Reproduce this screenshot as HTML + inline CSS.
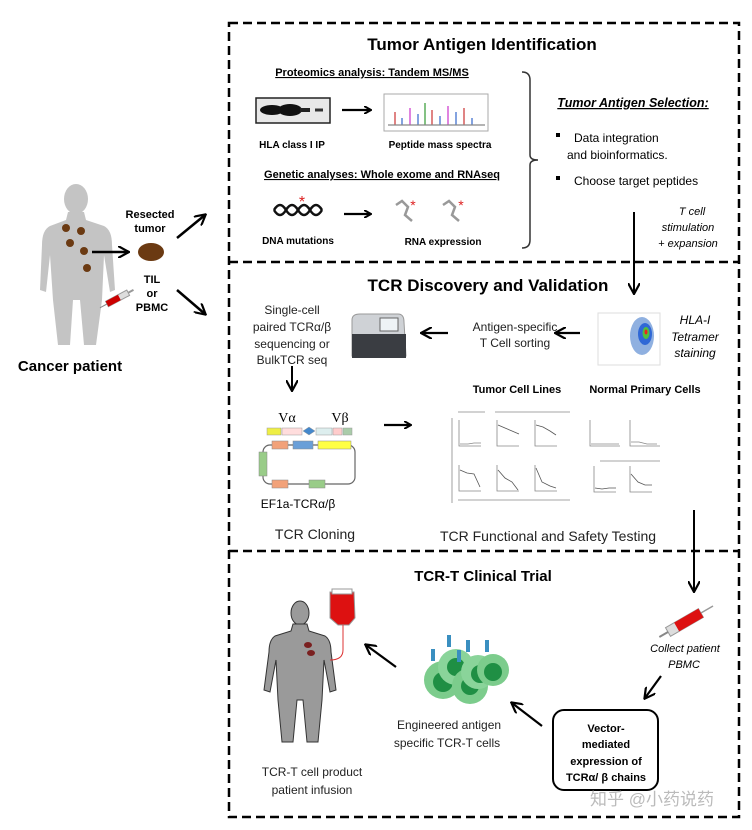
<!DOCTYPE html>
<html><head><meta charset="utf-8"><style>
html,body{margin:0;padding:0;background:#fff;}
svg{display:block;font-family:"Liberation Sans","Noto Sans CJK SC",sans-serif;}
</style></head><body>
<svg width="752" height="830" viewBox="0 0 752 830" xmlns="http://www.w3.org/2000/svg">
<defs>
<marker id="ah" markerWidth="8" markerHeight="8" refX="6" refY="4" orient="auto" markerUnits="userSpaceOnUse"><path d="M0,0 L7,4 L0,8" fill="none" stroke="#000" stroke-width="2"/></marker>
<marker id="ah2" markerWidth="12" markerHeight="12" refX="10" refY="6" orient="auto" markerUnits="userSpaceOnUse"><path d="M0,0 L11,6 L0,12" fill="none" stroke="#000" stroke-width="2.2"/></marker>
</defs>
<!-- dashed boxes -->
<g fill="none" stroke="#000" stroke-width="2.5" stroke-dasharray="9,5">
<rect x="229" y="23" width="510" height="794"/>
<line x1="229" y1="262" x2="739" y2="262"/>
<line x1="229" y1="551" x2="739" y2="551"/>
</g>

<!-- Left patient -->
<g fill="#c4c4c4">
<ellipse cx="76" cy="199" rx="12" ry="15"/>
<path d="M68,212 L84,212 L86,220 L104,226 Q112,230 112,245 L115,290 L110,292 L104,255 L102,300 L96,345 L84,345 L80,300 L73,300 L70,345 L58,345 L53,300 L50,255 L46,292 L40,290 L42,245 Q42,230 50,226 L66,220 Z"/>
</g>
<g fill="#6b3a12">
<circle cx="66" cy="228" r="4"/><circle cx="81" cy="231" r="4"/><circle cx="70" cy="243" r="4"/><circle cx="84" cy="251" r="4"/><circle cx="87" cy="268" r="4"/>
</g>
<line x1="92" y1="252" x2="128" y2="252" stroke="#000" stroke-width="2.5" marker-end="url(#ah2)"/>
<ellipse cx="151" cy="252" rx="13" ry="9" fill="#6b3a12"/>
<g font-weight="bold" font-size="11" text-anchor="middle">
<text x="150" y="218">Resected</text><text x="150" y="232">tumor</text>
<text x="152" y="283">TIL</text><text x="152" y="297">or</text><text x="152" y="311">PBMC</text>
</g>
<line x1="177" y1="238" x2="205" y2="215" stroke="#000" stroke-width="2.5" marker-end="url(#ah2)"/>
<line x1="177" y1="290" x2="205" y2="314" stroke="#000" stroke-width="2.5" marker-end="url(#ah2)"/>
<!-- syringe left -->
<g transform="translate(107,304) rotate(-28)">
<rect x="0" y="-3" width="24" height="6" fill="#ddd" stroke="#999"/>
<rect x="0" y="-3" width="14" height="6" fill="#c00"/>
<line x1="-8" y1="0" x2="0" y2="0" stroke="#888" stroke-width="1"/>
<line x1="24" y1="0" x2="30" y2="0" stroke="#999" stroke-width="2"/>
</g>
<text x="70" y="371" font-size="15" font-weight="bold" text-anchor="middle">Cancer patient</text>

<!-- Section 1 -->
<text x="482" y="50" font-size="17" font-weight="bold" text-anchor="middle">Tumor Antigen Identification</text>
<text x="372" y="76" font-size="11" font-weight="bold" text-anchor="middle" text-decoration="underline">Proteomics analysis: Tandem MS/MS</text>
<rect x="256" y="98" width="74" height="25" fill="#e8e8e8" stroke="#222" stroke-width="1.5"/>
<ellipse cx="272" cy="110" rx="12" ry="5" fill="#111"/><ellipse cx="290" cy="110" rx="12" ry="6" fill="#111"/><rect x="300" y="108" width="10" height="4" fill="#222"/><rect x="315" y="108.5" width="8" height="3" fill="#333"/>
<line x1="342" y1="110" x2="370" y2="110" stroke="#000" stroke-width="2.2" marker-end="url(#ah)"/>
<rect x="384" y="94" width="104" height="37" fill="#fff" stroke="#aaa"/>
<g stroke-width="1.2">
<line x1="395" y1="125" x2="395" y2="112" stroke="#c33"/><line x1="402" y1="125" x2="402" y2="118" stroke="#36c"/><line x1="410" y1="125" x2="410" y2="108" stroke="#c3c"/><line x1="418" y1="125" x2="418" y2="114" stroke="#36c"/><line x1="425" y1="125" x2="425" y2="103" stroke="#393"/><line x1="432" y1="125" x2="432" y2="110" stroke="#c33"/><line x1="440" y1="125" x2="440" y2="116" stroke="#36c"/><line x1="448" y1="125" x2="448" y2="106" stroke="#c3c"/><line x1="456" y1="125" x2="456" y2="112" stroke="#36c"/><line x1="464" y1="125" x2="464" y2="108" stroke="#c33"/><line x1="472" y1="125" x2="472" y2="118" stroke="#36c"/>
<line x1="388" y1="125" x2="485" y2="125" stroke="#888"/>
</g>
<text x="292" y="148" font-size="10" font-weight="bold" text-anchor="middle">HLA class I IP</text>
<text x="440" y="148" font-size="10" font-weight="bold" text-anchor="middle">Peptide  mass spectra</text>
<text x="382" y="178" font-size="11" font-weight="bold" text-anchor="middle" text-decoration="underline">Genetic analyses: Whole exome and RNAseq</text>
<path d="M274,210 Q280,200 286,210 T298,210 T310,210 T322,210" fill="none" stroke="#111" stroke-width="2.5"/>
<path d="M274,210 Q280,220 286,210 T298,210 T310,210 T322,210" fill="none" stroke="#111" stroke-width="2.5"/>
<text x="302" y="207" fill="#d22" font-size="16" text-anchor="middle">*</text>
<line x1="344" y1="214" x2="370" y2="214" stroke="#000" stroke-width="2.2" marker-end="url(#ah)"/>
<path d="M396,205 l6,-4 l6,6 l-3,8 l7,6" fill="none" stroke="#999" stroke-width="2.5"/>
<path d="M443,205 l6,-4 l6,6 l-3,8 l7,6" fill="none" stroke="#999" stroke-width="2.5"/>
<text x="413" y="210" fill="#d22" font-size="14" text-anchor="middle">*</text>
<text x="461" y="210" fill="#d22" font-size="14" text-anchor="middle">*</text>
<text x="298" y="244" font-size="10" font-weight="bold" text-anchor="middle">DNA mutations</text>
<text x="443" y="245" font-size="10" font-weight="bold" text-anchor="middle">RNA expression</text>
<path d="M522,72 Q530,72 530,80 L530,155 Q530,160 538,160 Q530,160 530,165 L530,240 Q530,248 522,248" fill="none" stroke="#333" stroke-width="1.5"/>
<text x="633" y="107" font-size="12.5" font-weight="bold" font-style="italic" text-anchor="middle" text-decoration="underline">Tumor Antigen Selection:</text>
<g font-size="12">
<rect x="556" y="133" width="4" height="4" fill="#000"/><text x="574" y="142">Data integration</text>
<text x="567" y="159">and bioinformatics.</text>
<rect x="556" y="176" width="4" height="4" fill="#000"/><text x="574" y="185">Choose target peptides</text>
</g>
<g font-size="11" font-style="italic" text-anchor="middle">
<text x="692" y="215">T cell</text><text x="688" y="231">stimulation</text><text x="688" y="247">+ expansion</text>
</g>
<line x1="634" y1="212" x2="634" y2="293" stroke="#000" stroke-width="2" marker-end="url(#ah2)"/>

<!-- Section 2 -->
<text x="488" y="291" font-size="17" font-weight="bold" text-anchor="middle">TCR Discovery and Validation</text>
<g font-size="12" text-anchor="middle" fill="#222">
<text x="292" y="314">Single-cell</text><text x="292" y="331">paired TCRα/β</text><text x="292" y="348">sequencing or</text><text x="292" y="364">BulkTCR seq</text>
<text x="515" y="331">Antigen-specific</text><text x="515" y="347">T Cell sorting</text>
</g>
<g font-size="12" font-style="italic" text-anchor="middle"><text x="695" y="324">HLA-I</text><text x="695" y="341">Tetramer</text><text x="695" y="357">staining</text></g>
<path d="M352,320 Q352,314 360,314 L398,314 Q404,314 404,322 L406,356 L352,356 Z" fill="#cfd2d6" stroke="#999"/>
<rect x="352" y="334" width="54" height="24" fill="#3a3d42"/>
<rect x="380" y="318" width="18" height="13" fill="#eef3f6" stroke="#666"/>
<line x1="448" y1="333" x2="422" y2="333" stroke="#000" stroke-width="2.2" marker-end="url(#ah2)"/>
<line x1="580" y1="333" x2="556" y2="333" stroke="#000" stroke-width="2.2" marker-end="url(#ah2)"/>
<rect x="598" y="313" width="62" height="52" fill="#fff" stroke="#ddd"/>
<ellipse cx="642" cy="336" rx="12" ry="19" fill="#8fb0e0"/>
<ellipse cx="645" cy="334" rx="7" ry="11" fill="#2f68d6"/>
<ellipse cx="646" cy="333" rx="3.5" ry="6" fill="#50c040"/>
<ellipse cx="646" cy="332" rx="1.5" ry="2.5" fill="#e22"/>
<line x1="292" y1="366" x2="292" y2="390" stroke="#000" stroke-width="2" marker-end="url(#ah2)"/>
<g font-family="Liberation Serif,serif" font-size="14" text-anchor="middle"><text x="287" y="422">Vα</text><text x="340" y="422">Vβ</text></g>
<g stroke="#999" stroke-width="0.5">
<rect x="267" y="428" width="14" height="7" fill="#ee4"/><rect x="282" y="428" width="20" height="7" fill="#fdd"/><path d="M303,431 l6,-4 l6,4 l-6,4z" fill="#48c"/><rect x="316" y="428" width="16" height="7" fill="#dee"/><rect x="333" y="428" width="9" height="7" fill="#fcc"/><rect x="343" y="428" width="9" height="7" fill="#aca"/>
</g>
<rect x="263" y="445" width="92" height="39" rx="7" fill="none" stroke="#666" stroke-width="1.2"/>
<g stroke="#888" stroke-width="0.5">
<rect x="272" y="441" width="16" height="8" fill="#f2a27a"/><rect x="293" y="441" width="20" height="8" fill="#6a9fd8"/><rect x="318" y="441" width="33" height="8" fill="#ff4"/>
<rect x="259" y="452" width="8" height="24" fill="#9c8"/>
<rect x="272" y="480" width="16" height="8" fill="#f2a27a"/><rect x="309" y="480" width="16" height="8" fill="#9c8"/>
</g>
<text x="298" y="508" font-size="12" text-anchor="middle">EF1a-TCRα/β</text>
<line x1="384" y1="425" x2="410" y2="425" stroke="#000" stroke-width="2.2" marker-end="url(#ah)"/>
<g font-size="11" font-weight="bold" text-anchor="middle"><text x="517" y="393">Tumor Cell Lines</text><text x="645" y="393">Normal Primary Cells</text></g>
<!-- charts -->
<g fill="none" stroke="#888" stroke-width="0.8">
<line x1="458" y1="412" x2="485" y2="412"/><line x1="495" y1="412" x2="570" y2="412"/>
<line x1="452" y1="418" x2="452" y2="503"/>
<path d="M459,420 v26 h22 M497,420 v26 h22 M535,420 v26 h22 M459,465 v26 h22 M497,465 v26 h22 M535,465 v26 h22"/>
<path d="M460,444 l8,0 l6,-1 l7,0"/>
<path d="M498,425 l7,3 l7,3 l7,3" stroke="#555"/>
<path d="M536,425 l7,2 l7,4 l6,4" stroke="#555"/>
<path d="M460,470 l7,3 l7,1 l6,13" stroke="#555"/>
<path d="M498,470 l7,8 l7,4 l6,8" stroke="#555"/>
<path d="M536,468 l6,14 l8,4 l6,2" stroke="#555"/>
<line x1="458" y1="500" x2="570" y2="500"/>
<path d="M590,420 v26 h30 M630,420 v26 h30 M594,466 v26 h22 M630,466 v26 h22"/>
<path d="M591,444 h28 M631,442 l8,0 l8,2 l10,0"/>
<line x1="600" y1="461" x2="660" y2="461"/>
<path d="M595,488 l7,1 l7,-1 l7,0 M631,474 l7,8 l7,3 l7,0" stroke="#555"/>
</g>
<g font-size="14" text-anchor="middle" fill="#222"><text x="315" y="539">TCR  Cloning</text><text x="548" y="541">TCR Functional and Safety Testing</text></g>
<line x1="694" y1="510" x2="694" y2="591" stroke="#000" stroke-width="2" marker-end="url(#ah2)"/>

<!-- Section 3 -->
<text x="483" y="581" font-size="15" font-weight="bold" text-anchor="middle">TCR-T Clinical Trial</text>
<!-- right syringe -->
<g transform="translate(668,632) rotate(-30)">
<rect x="0" y="-5" width="38" height="10" fill="#ddd" stroke="#999"/>
<rect x="10" y="-5" width="28" height="10" fill="#d11"/>
<line x1="-10" y1="0" x2="0" y2="0" stroke="#888" stroke-width="2"/>
<line x1="38" y1="0" x2="52" y2="0" stroke="#999" stroke-width="1.5"/>
</g>
<g font-size="11" font-style="italic" text-anchor="middle"><text x="685" y="652">Collect patient</text><text x="684" y="668">PBMC</text></g>
<line x1="661" y1="676" x2="645" y2="698" stroke="#000" stroke-width="2.2" marker-end="url(#ah2)"/>
<rect x="553" y="710" width="105" height="80" rx="11" fill="#fff" stroke="#000" stroke-width="2"/>
<g font-size="11" font-weight="bold" text-anchor="middle"><text x="606" y="732">Vector-</text><text x="606" y="748">mediated</text><text x="606" y="765">expression of</text><text x="606" y="781">TCRα/ β chains</text></g>
<line x1="542" y1="726" x2="512" y2="703" stroke="#000" stroke-width="2.2" marker-end="url(#ah2)"/>
<!-- cells -->
<g>
<circle cx="443" cy="680" r="19" fill="#7ccc8c"/><circle cx="443" cy="682" r="10" fill="#1f8f44"/>
<circle cx="456" cy="667" r="18" fill="#8ad49a"/><circle cx="456" cy="667" r="9" fill="#1f8f44"/>
<circle cx="470" cy="686" r="18" fill="#7ccc8c"/><circle cx="470" cy="686" r="9" fill="#1f8f44"/>
<circle cx="478" cy="672" r="17" fill="#8ad49a"/><circle cx="480" cy="674" r="9" fill="#1f8f44"/>
<circle cx="493" cy="670" r="16" fill="#7ccc8c"/><circle cx="493" cy="672" r="9" fill="#1f8f44"/>
</g>
<g fill="#3a8fc0"><rect x="431" y="649" width="4" height="12"/><rect x="447" y="635" width="4" height="12"/><rect x="457" y="650" width="4" height="12"/><rect x="466" y="640" width="4" height="12"/><rect x="485" y="640" width="4" height="12"/></g>
<g font-size="12" text-anchor="middle" fill="#222"><text x="449" y="729">Engineered antigen</text><text x="447" y="747">specific TCR-T cells</text></g>
<line x1="396" y1="667" x2="366" y2="645" stroke="#000" stroke-width="2.2" marker-end="url(#ah2)"/>
<!-- right person -->
<g fill="#9a9a9a" stroke="#333" stroke-width="1">
<ellipse cx="300" cy="613" rx="9" ry="12"/>
<path d="M293,624 L307,624 L309,631 L325,636 Q331,640 331,652 L336,690 L330,692 L324,660 L322,700 L318,742 L307,742 L303,700 L297,700 L293,742 L282,742 L278,700 L276,660 L270,692 L264,690 L269,652 Q269,640 275,636 L291,631 Z"/>
</g>
<g fill="#7a2020"><ellipse cx="308" cy="645" rx="4" ry="3"/><ellipse cx="311" cy="653" rx="4" ry="3"/></g>
<path d="M330,592 L354,592 L355,618 L349,625 L338,625 L330,618 Z" fill="#d11" stroke="#999"/>
<rect x="332" y="589" width="20" height="5" fill="#fff" stroke="#999"/>
<path d="M343,625 L343,650 Q343,660 330,660" fill="none" stroke="#d33" stroke-width="1"/>
<g font-size="12" text-anchor="middle" fill="#222"><text x="312" y="776">TCR-T cell product</text><text x="312" y="794">patient infusion</text></g>
<text x="652" y="805" font-size="17" fill="#bbb" text-anchor="middle" font-family="Liberation Sans,Noto Sans CJK SC,sans-serif">知乎 @小药说药</text>
</svg>
</body></html>
